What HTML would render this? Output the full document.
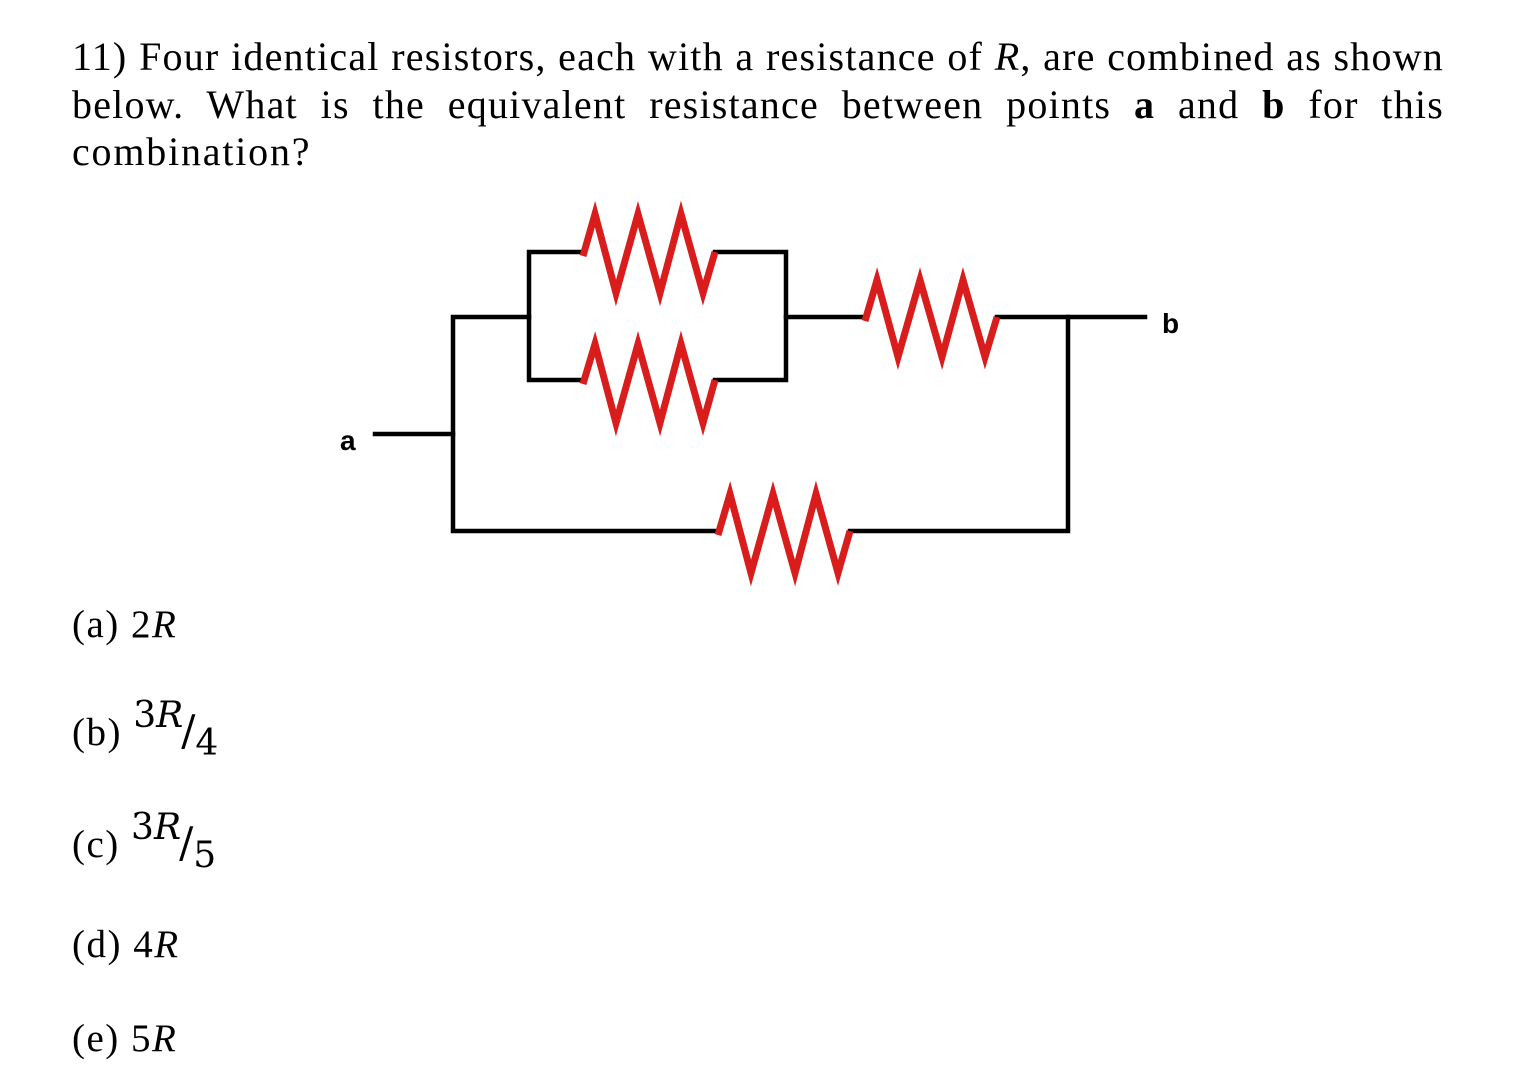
<!DOCTYPE html>
<html><head><style>
body{margin:0;width:1532px;height:1084px;background:#fff;position:relative;font-family:"Liberation Serif",serif;color:#000;overflow:hidden}
.l{position:absolute;left:72px;width:1372px;font-size:40px;letter-spacing:1.2px;line-height:48px;text-align:justify;text-align-last:justify;white-space:nowrap}
.o{position:absolute;left:72px;font-size:39px;letter-spacing:1.5px}
i{font-style:italic}
.m{font-family:"DejaVu Serif","Liberation Serif",serif;font-size:36px;letter-spacing:0}
</style></head><body>
<div class="l" style="top:33px">11) Four identical resistors, each with a resistance of <i>R</i>, are combined as shown</div>
<div class="l" style="top:81px">below. What is the equivalent resistance between points <b>a</b> and <b>b</b> for this</div>
<div class="l" style="top:128px;text-align-last:left;letter-spacing:1.8px">combination?</div>
<div class="o" style="top:602px">(a) 2<i>R</i></div>
<div class="o" style="top:706px">(b) <span class="m" style="position:relative;top:-18px">3<i>R</i></span><span class="m" style="font-size:42px;margin-left:-2px">/</span><span class="m" style="position:relative;top:10px">4</span></div>
<div class="o" style="top:818px">(c) <span class="m" style="position:relative;top:-18px">3<i>R</i></span><span class="m" style="font-size:42px;margin-left:-2px">/</span><span class="m" style="position:relative;top:10px">5</span></div>
<div class="o" style="top:922px">(d) 4<i>R</i></div>
<div class="o" style="top:1016px">(e) 5<i>R</i></div>
<svg width="1532" height="1084" style="position:absolute;left:0;top:0">
<g stroke="#000" stroke-width="4.5" fill="none" stroke-linecap="square">
<polyline points="583,252 529,252 529,380 583,380"/>
<polyline points="715,252 786,252 786,380 715,380"/>
<polyline points="529,317 453,317 453,531 718,531"/>
<line x1="786" y1="317" x2="865" y2="317"/>
<line x1="997" y1="317" x2="1145" y2="317"/>
<polyline points="850,531 1068,531 1068,317"/>
<line x1="375" y1="434" x2="453" y2="434"/>
</g>
<g stroke="#d91c1c" stroke-width="7" fill="none" stroke-linejoin="miter">
<polyline points="583,256 595,214 616,293 638,214 660,293 681,214 703,293 715,252"/>
<polyline points="583,384 595,344 616,423 638,344 660,423 681,344 703,423 715,380"/>
<polyline points="865,321 877,280 898,357 920,280 942,357 963,280 985,357 997,317"/>
<polyline points="718,535 730,494 751,573 773,494 795,573 816,494 838,573 850,531"/>
</g>
<text x="340" y="450" font-family="Liberation Sans" font-size="28" font-weight="bold">a</text>
<text x="1162" y="333" font-family="Liberation Sans" font-size="28" font-weight="bold">b</text>
</svg>
</body></html>
